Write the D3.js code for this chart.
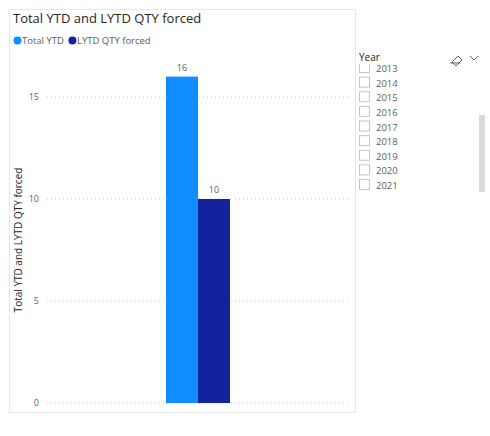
<!DOCTYPE html>
<html><head><meta charset="utf-8">
<script src="https://cdn.jsdelivr.net/npm/d3@7"></script>
<style>body{margin:0;background:#fff;font-family:"Segoe UI","Open Sans",sans-serif;}</style>
</head><body>
<svg id="chart" width="490" height="436"></svg>
<script>
const seriesNames = ['Total YTD', 'LYTD QTY forced'];
const seriesValues = [16, 10];
const seriesColors = ['#118dff', '#12239e'];
const yTicks = [0, 5, 10, 15];
const years = ['2013', '2014', '2015', '2016', '2017', '2018', '2019', '2020', '2021'];

const svg = d3.select('#chart');
const font = '"Segoe UI","Open Sans",sans-serif';

// card
svg.append('rect').attr('x', 9.5).attr('y', 9.5).attr('width', 346).attr('height', 403)
  .attr('fill', '#fff').attr('stroke', '#e6e6e6');
svg.append('text').attr('x', 13).attr('y', 23).text('Total YTD and LYTD QTY forced')
  .attr('font-family', font).attr('font-size', 13).attr('fill', '#252423');

// legend
let lx = 14;
seriesNames.forEach((n, i) => {
  svg.append('circle').attr('cx', lx + 3.5).attr('cy', 40.5).attr('r', 4).attr('fill', seriesColors[i]);
  const t = svg.append('text').attr('x', lx + 8).attr('y', 44).text(n)
    .attr('font-family', font).attr('font-size', 9.5).attr('fill', '#605e5c');
  lx += 8 + t.node().getComputedTextLength() + 5;
});

const y = d3.scaleLinear().domain([0, 15]).range([403, 97]);
const x = d3.scaleBand().domain(seriesNames).range([166, 230]);

const axis = svg.append('g').attr('transform', 'translate(47,0)')
  .call(d3.axisLeft(y).tickValues(yTicks).tickSize(0).tickPadding(8));
axis.select('.domain').remove();
axis.selectAll('text').attr('font-family', font).attr('font-size', 9).attr('fill', '#605e5c');

svg.append('g').selectAll('line').data(yTicks).join('line')
  .attr('x1', 47).attr('x2', 349).attr('y1', d => y(d)).attr('y2', d => y(d))
  .attr('stroke', '#c8c8c8').attr('stroke-dasharray', '1,3');

svg.append('text').attr('transform', 'translate(22,240) rotate(-90)').attr('text-anchor', 'middle')
  .text('Total YTD and LYTD QTY forced').attr('font-family', font).attr('font-size', 10).attr('fill', '#252423');

svg.append('g').selectAll('rect').data(seriesValues).join('rect')
  .attr('x', (d, i) => x(seriesNames[i])).attr('width', x.bandwidth())
  .attr('y', d => y(d)).attr('height', d => y(0) - y(d))
  .attr('fill', (d, i) => seriesColors[i]);

svg.append('g').selectAll('text').data(seriesValues).join('text')
  .attr('x', (d, i) => x(seriesNames[i]) + x.bandwidth() / 2).attr('y', d => y(d) - 6)
  .attr('text-anchor', 'middle').text(d => d)
  .attr('font-family', font).attr('font-size', 9).attr('fill', '#605e5c');

// slicer
svg.append('text').attr('x', 359).attr('y', 61).text('Year')
  .attr('font-family', font).attr('font-size', 10).attr('fill', '#252423');
svg.append('path').attr('d', 'M452,62 l6,-6 l4,4 l-6,6 z M450,63 h10').attr('fill', 'none').attr('stroke', '#605e5c');
svg.append('path').attr('d', 'M470,56 l4,4 l4,-4').attr('fill', 'none').attr('stroke', '#605e5c');
svg.append('clipPath').attr('id', 'sc').append('rect').attr('x', 355).attr('y', 64).attr('width', 120).attr('height', 130);
const items = svg.append('g').attr('clip-path', 'url(#sc)');
const yy = d3.scalePoint().domain(years).range([68, 185]);
years.forEach(yr => {
  items.append('rect').attr('x', 359.5).attr('y', yy(yr) - 5.5).attr('width', 10).attr('height', 10)
    .attr('fill', '#fff').attr('stroke', '#c8c6c4');
  items.append('text').attr('x', 376).attr('y', yy(yr) + 4).text(yr)
    .attr('font-family', font).attr('font-size', 9.5).attr('fill', '#605e5c');
});
svg.append('rect').attr('x', 479).attr('y', 115).attr('width', 6).attr('height', 77).attr('fill', '#d9d9d9');
</script>
</body></html>
